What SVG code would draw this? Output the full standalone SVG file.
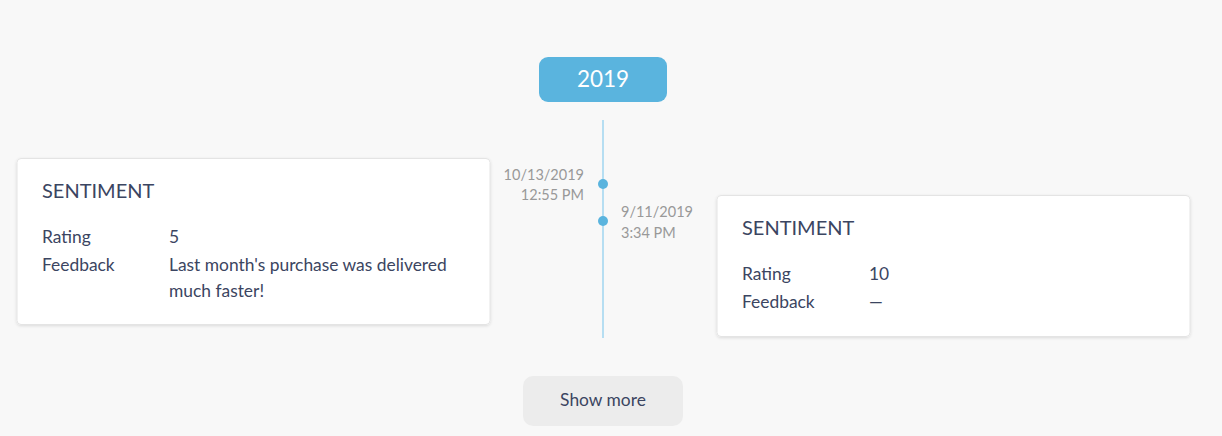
<svg xmlns="http://www.w3.org/2000/svg" width="1222" height="436" viewBox="0 0 1222 436">
<defs>
<filter id="sh" x="-5%" y="-10%" width="110%" height="125%">
<feDropShadow dx="0" dy="1" stdDeviation="1.5" flood-color="#000" flood-opacity="0.12"/>
</filter>
<style>
text{font-family:Lato,"Open Sans","Liberation Sans",sans-serif}
.card{fill:#fff;stroke:#e4e4e4;stroke-width:1;filter:url(#sh)}
.title{font-size:20px;fill:#3b4561}
.lbl{font-size:17.4px;fill:#3b4561}
.date{font-size:14.5px;fill:#999}
.dot{fill:#5ab4de}
</style>
</defs>
<rect width="1222" height="436" fill="#f8f8f8"/>
<g id="year">
<rect x="539" y="57" width="128" height="45" rx="9" fill="#5ab4de"/>
<text x="603" y="87" text-anchor="middle" font-size="22.5" fill="#fff">2019</text>
</g>
<g id="connectors">
<line x1="603" y1="120" x2="603" y2="338" stroke="#b6def2" stroke-width="2"/>
<circle class="dot" cx="603" cy="184" r="5"/>
<circle class="dot" cx="603" cy="221" r="5"/>
</g>
<g id="date1">
<text class="date" x="584" y="180" text-anchor="end">10/13/2019</text>
<text class="date" x="584" y="200" text-anchor="end">12:55 PM</text>
</g>
<g id="date2">
<text class="date" x="621" y="217">9/11/2019</text>
<text class="date" x="621" y="238">3:34 PM</text>
</g>
<g id="card1">
<rect class="card" x="17" y="158.5" width="473" height="166" rx="4"/>
<text class="title" x="42" y="198">SENTIMENT</text>
<text class="lbl" x="42" y="243">Rating</text>
<text class="lbl" x="169" y="243">5</text>
<text class="lbl" x="42" y="271">Feedback</text>
<text class="lbl" x="169" y="271">Last month's purchase was delivered</text>
<text class="lbl" x="169" y="297">much faster!</text>
</g>
<g id="card2">
<rect class="card" x="717" y="195.5" width="473" height="141" rx="4"/>
<text class="title" x="742" y="235">SENTIMENT</text>
<text class="lbl" x="742" y="280">Rating</text>
<text class="lbl" x="869" y="280">10</text>
<text class="lbl" x="742" y="308">Feedback</text>
<text class="lbl" x="869" y="308">—</text>
</g>
<g id="showmore">
<rect x="523" y="376" width="160" height="50" rx="10" fill="#ececec"/>
<text class="lbl" x="603" y="406" text-anchor="middle">Show more</text>
</g>
</svg>
